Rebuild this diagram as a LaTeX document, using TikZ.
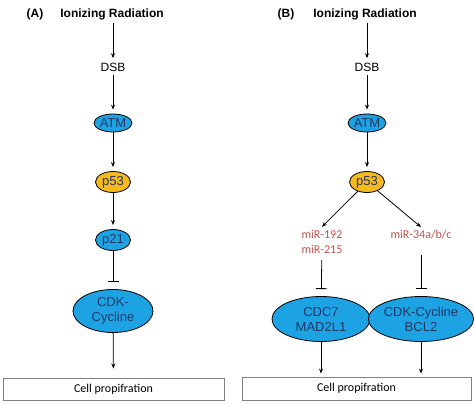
\documentclass[tikz,border=0pt]{standalone}
\usepackage{fontspec}
\setmainfont{Liberation Sans}
\newfontfamily\calfont{Carlito}
\usepackage{tikz}
\usetikzlibrary{arrows.meta,shapes.geometric}

\definecolor{cellblue}{RGB}{29,163,228}
\definecolor{pgold}{RGB}{247,186,30}
\definecolor{navytext}{RGB}{31,56,100}
\definecolor{mirred}{RGB}{192,80,77}
\definecolor{boxgray}{RGB}{128,128,128}

\tikzset{
  prot/.style={ellipse, draw=black, line width=0.8pt, inner sep=0pt,
    text=navytext, font=\fontsize{13}{15}\selectfont, align=center},
  bluep/.style={prot, fill=cellblue},
  goldp/.style={prot, fill=pgold},
  mir/.style={text=mirred, font=\calfont\fontsize{12}{15}\selectfont, align=center},
  outbox/.style={draw=boxgray, line width=0.9pt, inner sep=0pt,
    font=\calfont\fontsize{12}{14}\selectfont},
  act/.style={-{Stealth[length=5pt,width=4pt]}, line width=0.8pt, shorten >=4pt},
  inhib/.style={-{Bar[width=11pt,line width=0.9pt]}, line width=0.8pt}
}

\begin{document}
\begin{tikzpicture}[x=1pt, y=-1pt, font=\fontsize{12}{14}\selectfont]

\useasboundingbox (0,0) rectangle (474,404);

% panel A
\node (labA) at (35,14) {\bfseries (A)};
\node (radA) at (112,14) {\bfseries Ionizing Radiation};
\node (dsbA) at (113,67) {DSB};
\node [bluep, minimum width=38pt, minimum height=18pt] (atmA) at (113,123) {ATM};
\node [goldp, minimum width=35pt, minimum height=21pt] (p53A) at (113,182) {p53};
\node [bluep, minimum width=35pt, minimum height=21pt] (p21A) at (113,240) {p21};
\node [bluep, minimum width=80pt, minimum height=43pt] (cdkA) at (113,311) {CDK-\\Cycline};
\node [outbox, minimum width=221pt, minimum height=22pt] (cellA) at (113.5,389) {Cell propifration};

\draw [act, shorten >=1pt] (dsbA |- radA.south) -- (dsbA);
\draw [act] (dsbA) -- (atmA);
\draw [act] (atmA) -- (p53A);
\draw [act] (p53A) -- (p21A);
\draw [inhib, shorten >=7pt] (p21A) -- (cdkA);
\draw [act, shorten >=9pt] (cdkA) -- (cellA);

% panel B
\node (labB) at (286,14) {\bfseries (B)};
\node (radB) at (365,14) {\bfseries Ionizing Radiation};
\node (dsbB) at (367,67) {DSB};
\node [bluep, minimum width=38pt, minimum height=18pt] (atmB) at (367,123) {ATM};
\node [goldp, minimum width=35pt, minimum height=21pt] (p53B) at (367,182) {p53};
\node [mir] (mirL) at (322,242) {miR-192\\miR-215};
\node [mir] (mirR) at (421,235) {miR-34a/b/c};
\node [bluep, minimum width=98pt, minimum height=45pt] (cdc7) at (321,319) {CDC7\\MAD2L1};
\node [bluep, minimum width=98pt, minimum height=45pt] (bcl2) at (421,319) {CDK-Cycline\\BCL2};
\node [outbox, minimum width=229pt, minimum height=23pt] (cellB) at (356.5,388.5) {Cell propifration};

\draw [act, shorten >=1pt] (dsbB |- radB.south) -- (dsbB);
\draw [act] (dsbB) -- (atmB);
\draw [act] (atmB) -- (p53B);
\draw [act, shorten >=0pt] (p53B) -- (mirL.north);
\draw [act, shorten >=0pt] (p53B) -- (mirR.north);
\draw [inhib, shorten <=3pt, shorten >=7pt] (mirL) -- (cdc7);
\draw [inhib, shorten <=12pt, shorten >=7pt] (mirR.south) -- (bcl2.north);
\draw [act, shorten >=3pt] (cdc7) -- (cdc7 |- cellB.north);
\draw [act, shorten >=3pt] (bcl2) -- (bcl2 |- cellB.north);

\end{tikzpicture}
\end{document}
